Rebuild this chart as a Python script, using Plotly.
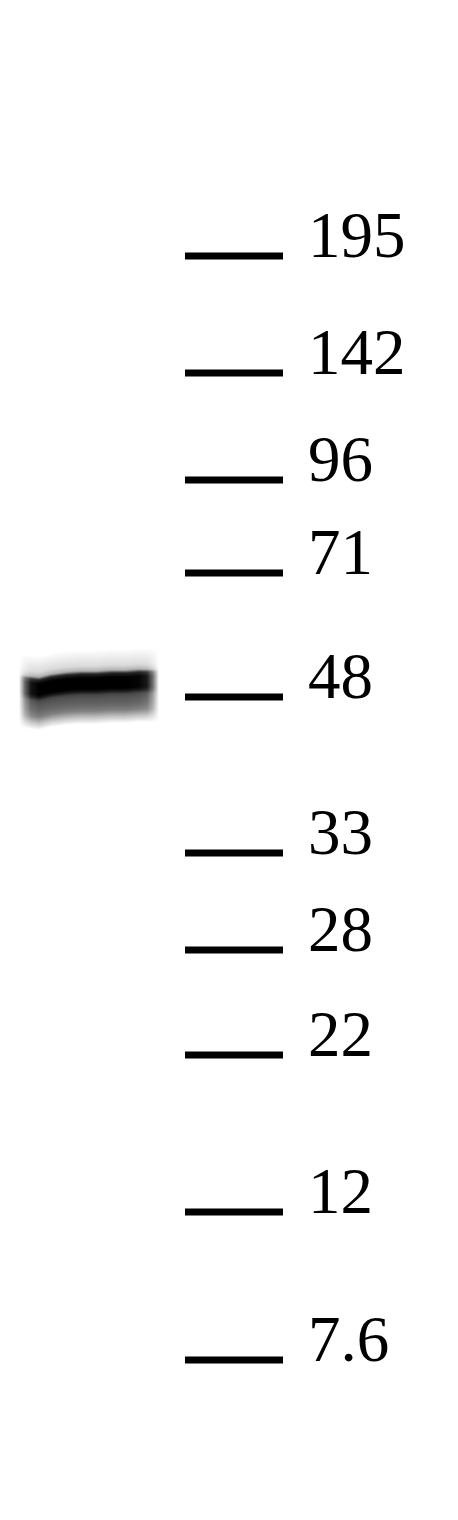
import numpy as np
import plotly.graph_objects as go

# Molecular weight marker labels (kDa) and their migration positions (px from top of blot)
marker_labels = ["195", "142", "96", "71", "48", "33", "28", "22", "12", "7.6"]
marker_position = [256, 373, 480, 573, 697, 853, 950, 1055, 1212, 1360]

# Sample band: horizontal profile across the lane
lane_x = [18, 24, 30, 38, 50, 65, 80, 95, 110, 125, 138, 146, 152, 158]
lane_intensity = [0.0, 0.6, 0.92, 1.0, 1.0, 1.0, 1.0, 1.0, 1.0, 1.0, 0.98, 0.9, 0.55, 0.0]
band_center = [686, 687, 688, 689, 686, 684, 683, 683, 682, 682, 681, 681, 681, 681]
# vertical profile relative to band centre
profile_offset = [-34, -26, -18, -13, -10, -6, 0, 5, 8, 11, 15, 21, 27, 33, 40]
profile_intensity = [0.0, 0.07, 0.14, 0.3, 0.85, 1.0, 1.0, 1.0, 0.9, 0.72, 0.66, 0.6, 0.5, 0.25, 0.0]

gx = np.arange(10, 168, 1.0)
gy = np.arange(640, 738, 1.0)
hx = np.interp(gx, lane_x, lane_intensity)
cy = np.interp(gx, lane_x, band_center)
z = np.zeros((len(gy), len(gx)))
for j in range(len(gx)):
    z[:, j] = hx[j] * np.interp(gy - cy[j], profile_offset, profile_intensity, left=0, right=0)

fig = go.Figure()
fig.add_trace(go.Heatmap(
    x=gx, y=gy, z=z, zmin=0, zmax=1, zsmooth="best",
    colorscale=[[0, "rgba(255,255,255,0)"], [0.01, "rgb(252,252,252)"], [1, "rgb(0,0,0)"]],
    showscale=False, hoverinfo="skip"))

mx, my = [], []
for p in marker_position:
    mx += [185, 283, None]
    my += [p, p, None]
fig.add_trace(go.Scatter(x=mx, y=my, mode="lines",
                         line=dict(color="black", width=7), hoverinfo="skip"))

for lab, p in zip(marker_labels, marker_position):
    fig.add_annotation(x=306, y=p, text=lab, showarrow=False, xanchor="left",
                       yanchor="middle", yshift=21,
                       font=dict(family="Liberation Serif", size=65, color="black"))

fig.update_layout(
    width=458, height=1520, margin=dict(l=0, r=0, t=0, b=0),
    paper_bgcolor="white", plot_bgcolor="white", showlegend=False,
    xaxis=dict(range=[0, 458], visible=False, fixedrange=True),
    yaxis=dict(range=[1520, 0], visible=False, fixedrange=True),
)
fig.write_html("out.html", config={"displayModeBar": False},
               post_script="document.body.style.margin='0';")
